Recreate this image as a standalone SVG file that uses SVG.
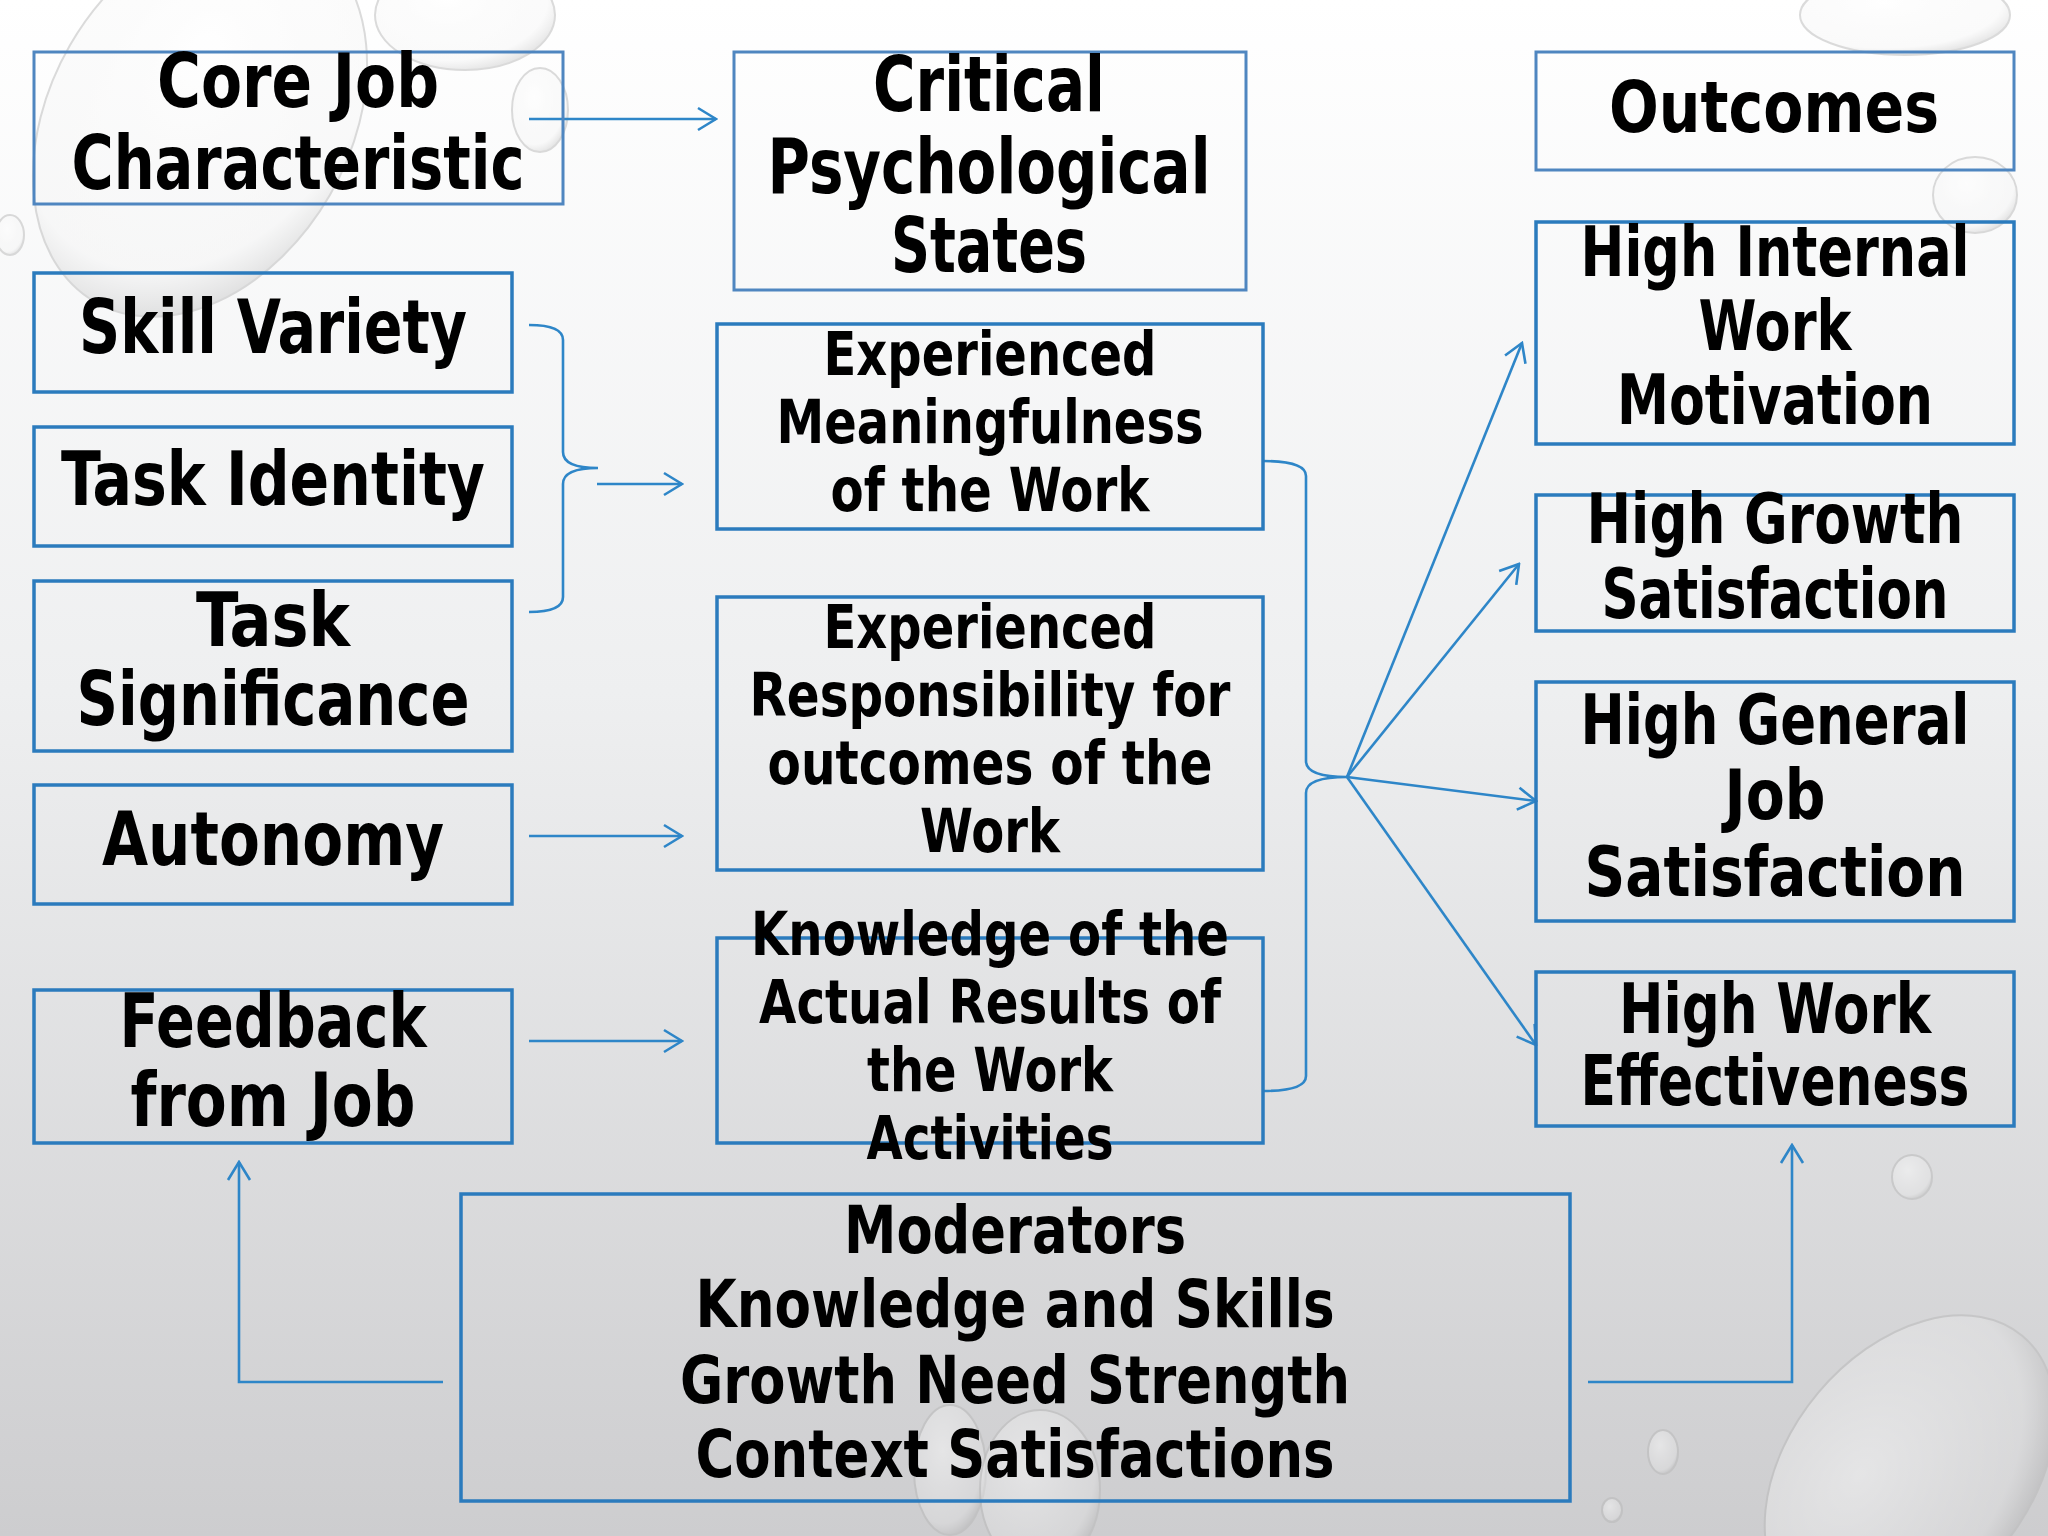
<svg xmlns="http://www.w3.org/2000/svg" width="2048" height="1536" viewBox="0 0 2048 1536">
<defs>
<linearGradient id="bg" x1="0" y1="0" x2="0" y2="1">
<stop offset="0" stop-color="#ffffff"/>
<stop offset="0.45" stop-color="#eeeff0"/>
<stop offset="1" stop-color="#cdcdcf"/>
</linearGradient>
<radialGradient id="drop" cx="0.4" cy="0.35" r="0.7">
<stop offset="0" stop-color="#ffffff" stop-opacity="0.9"/>
<stop offset="0.8" stop-color="#f2f2f2" stop-opacity="0.5"/>
<stop offset="1" stop-color="#9a9a9a" stop-opacity="0.6"/>
</radialGradient>
<marker id="arr" viewBox="0 0 22 26" refX="20" refY="13" markerWidth="22" markerHeight="26" markerUnits="userSpaceOnUse" orient="auto">
<path d="M2,2 L20,13 L2,24" fill="none" stroke="#2e86c8" stroke-width="2.6"/>
</marker>
<style>
.box{fill:none;stroke:#2b7bbd;stroke-width:3.5}
.boxl{fill:none;stroke:#4f86c0;stroke-width:3}
.con{fill:none;stroke:#2e86c8;stroke-width:2.6}
.t{font-family:"DejaVu Sans","Noto Sans",sans-serif;font-weight:bold;fill:#000;text-anchor:middle}
.tc{font-family:"DejaVu Sans Condensed","DejaVu Sans",sans-serif;font-weight:bold;fill:#000;text-anchor:middle}
.drop{fill:url(#drop);stroke:#b8b8b8;stroke-width:2;opacity:0.5}
</style>
</defs>
<rect width="2048" height="1536" fill="url(#bg)"/>
<g id="drops">
<ellipse class="drop" cx="200" cy="120" rx="150" ry="210" transform="rotate(30 200 120)"/>
<ellipse class="drop" cx="465" cy="15" rx="90" ry="55"/>
<ellipse class="drop" cx="540" cy="110" rx="28" ry="42"/>
<ellipse class="drop" cx="1905" cy="15" rx="105" ry="40"/>
<ellipse class="drop" cx="1975" cy="195" rx="42" ry="38"/>
<ellipse class="drop" cx="1912" cy="1177" rx="20" ry="22"/>
<ellipse class="drop" cx="1910" cy="1470" rx="175" ry="120" transform="rotate(-50 1910 1470)"/>
<ellipse class="drop" cx="1663" cy="1452" rx="15" ry="22"/>
<ellipse class="drop" cx="1612" cy="1510" rx="10" ry="12"/>
<ellipse class="drop" cx="950" cy="1470" rx="36" ry="65"/>
<ellipse class="drop" cx="1040" cy="1490" rx="60" ry="80"/>
<ellipse class="drop" cx="10" cy="235" rx="14" ry="20"/>
</g>
<g id="connectors">
<path class="con" d="M529,119 H716" marker-end="url(#arr)"/>
<path class="con" d="M529,325 Q563,325 563,340 V452 Q563,468 598,468 Q563,468 563,484 V597 Q563,612 529,612"/>
<path class="con" d="M597,484 H682" marker-end="url(#arr)"/>
<path class="con" d="M529,836 H682" marker-end="url(#arr)"/>
<path class="con" d="M529,1041 H682" marker-end="url(#arr)"/>
<path class="con" d="M1263,461 Q1306,461 1306,476 V761 Q1306,777 1347,777 Q1306,777 1306,793 V1076 Q1306,1091 1263,1091"/>
<path class="con" d="M1347,777 L1522,343" marker-end="url(#arr)"/>
<path class="con" d="M1347,777 L1519,564" marker-end="url(#arr)"/>
<path class="con" d="M1347,777 L1536,801" marker-end="url(#arr)"/>
<path class="con" d="M1347,777 L1536,1045" marker-end="url(#arr)"/>
<path class="con" d="M443,1382 H239 V1162" marker-end="url(#arr)"/>
<path class="con" d="M1588,1382 H1792 V1145" marker-end="url(#arr)"/>
</g>
<g id="core-job">
<rect class="boxl" x="34" y="52" width="529" height="152"/>
<text class="tc" font-size="75" x="298" y="107" textLength="282" lengthAdjust="spacingAndGlyphs">Core Job</text>
<text class="tc" font-size="75" x="298" y="189" textLength="453" lengthAdjust="spacingAndGlyphs">Characteristic</text>
</g>
<g id="critical">
<rect class="boxl" x="734" y="52" width="512" height="238"/>
<text class="t" font-size="76" x="989" y="111" textLength="232" lengthAdjust="spacingAndGlyphs">Critical</text>
<text class="t" font-size="76" x="989" y="193" textLength="443" lengthAdjust="spacingAndGlyphs">Psychological</text>
<text class="t" font-size="76" x="989" y="272" textLength="196" lengthAdjust="spacingAndGlyphs">States</text>
</g>
<g id="outcomes">
<rect class="boxl" x="1536" y="52" width="478" height="118"/>
<text class="t" font-size="72" x="1774" y="132" textLength="330" lengthAdjust="spacingAndGlyphs">Outcomes</text>
</g>
<g id="skill-variety">
<rect class="box" x="34" y="273" width="478" height="119"/>
<text class="tc" font-size="75" x="273" y="353" textLength="388" lengthAdjust="spacingAndGlyphs">Skill Variety</text>
</g>
<g id="task-identity">
<rect class="box" x="34" y="427" width="478" height="119"/>
<text class="tc" font-size="75" x="273" y="505" textLength="424" lengthAdjust="spacingAndGlyphs">Task Identity</text>
</g>
<g id="task-significance">
<rect class="box" x="34" y="581" width="478" height="170"/>
<text class="tc" font-size="75" x="273" y="646" textLength="154" lengthAdjust="spacingAndGlyphs">Task</text>
<text class="tc" font-size="75" x="273" y="725" textLength="393" lengthAdjust="spacingAndGlyphs">Significance</text>
</g>
<g id="autonomy">
<rect class="box" x="34" y="785" width="478" height="119"/>
<text class="tc" font-size="75" x="273" y="865" textLength="342" lengthAdjust="spacingAndGlyphs">Autonomy</text>
</g>
<g id="feedback">
<rect class="box" x="34" y="990" width="478" height="153"/>
<text class="tc" font-size="75" x="273" y="1047" textLength="307" lengthAdjust="spacingAndGlyphs">Feedback</text>
<text class="tc" font-size="75" x="273" y="1126" textLength="285" lengthAdjust="spacingAndGlyphs">from Job</text>
</g>
<g id="meaningfulness">
<rect class="box" x="717" y="324" width="546" height="205"/>
<text class="t" font-size="61" x="990" y="375" textLength="333" lengthAdjust="spacingAndGlyphs">Experienced</text>
<text class="t" font-size="61" x="990" y="443" textLength="427" lengthAdjust="spacingAndGlyphs">Meaningfulness</text>
<text class="t" font-size="61" x="990" y="511" textLength="319" lengthAdjust="spacingAndGlyphs">of the Work</text>
</g>
<g id="responsibility">
<rect class="box" x="717" y="597" width="546" height="273"/>
<text class="t" font-size="61" x="990" y="648" textLength="333" lengthAdjust="spacingAndGlyphs">Experienced</text>
<text class="t" font-size="61" x="990" y="716" textLength="481" lengthAdjust="spacingAndGlyphs">Responsibility for</text>
<text class="t" font-size="61" x="990" y="784" textLength="445" lengthAdjust="spacingAndGlyphs">outcomes of the</text>
<text class="t" font-size="61" x="990" y="852" textLength="140" lengthAdjust="spacingAndGlyphs">Work</text>
</g>
<g id="knowledge">
<rect class="box" x="717" y="938" width="546" height="205"/>
<text class="t" font-size="61" x="990" y="955" textLength="478" lengthAdjust="spacingAndGlyphs">Knowledge of the</text>
<text class="t" font-size="61" x="990" y="1023" textLength="462" lengthAdjust="spacingAndGlyphs">Actual Results of</text>
<text class="t" font-size="61" x="990" y="1091" textLength="246" lengthAdjust="spacingAndGlyphs">the Work</text>
<text class="t" font-size="61" x="990" y="1159" textLength="247" lengthAdjust="spacingAndGlyphs">Activities</text>
</g>
<g id="internal-motivation">
<rect class="box" x="1536" y="222" width="478" height="222"/>
<text class="t" font-size="69" x="1775" y="276" textLength="389" lengthAdjust="spacingAndGlyphs">High Internal</text>
<text class="t" font-size="69" x="1775" y="350" textLength="153" lengthAdjust="spacingAndGlyphs">Work</text>
<text class="t" font-size="69" x="1775" y="424" textLength="316" lengthAdjust="spacingAndGlyphs">Motivation</text>
</g>
<g id="growth-satisfaction">
<rect class="box" x="1536" y="495" width="478" height="136"/>
<text class="t" font-size="69" x="1775" y="543" textLength="377" lengthAdjust="spacingAndGlyphs">High Growth</text>
<text class="t" font-size="69" x="1775" y="618" textLength="347" lengthAdjust="spacingAndGlyphs">Satisfaction</text>
</g>
<g id="job-satisfaction">
<rect class="box" x="1536" y="682" width="478" height="239"/>
<text class="t" font-size="69" x="1775" y="744" textLength="389" lengthAdjust="spacingAndGlyphs">High General</text>
<text class="t" font-size="69" x="1775" y="819" textLength="101" lengthAdjust="spacingAndGlyphs">Job</text>
<text class="t" font-size="69" x="1775" y="896" textLength="381" lengthAdjust="spacingAndGlyphs">Satisfaction</text>
</g>
<g id="work-effectiveness">
<rect class="box" x="1536" y="972" width="478" height="154"/>
<text class="t" font-size="69" x="1775" y="1033" textLength="312" lengthAdjust="spacingAndGlyphs">High Work</text>
<text class="t" font-size="69" x="1775" y="1105" textLength="389" lengthAdjust="spacingAndGlyphs">Effectiveness</text>
</g>
<g id="moderators">
<rect class="box" x="461" y="1194" width="1109" height="307"/>
<text class="tc" font-size="66" x="1015" y="1253" textLength="342" lengthAdjust="spacingAndGlyphs">Moderators</text>
<text class="tc" font-size="66" x="1015" y="1327" textLength="639" lengthAdjust="spacingAndGlyphs">Knowledge and Skills</text>
<text class="tc" font-size="66" x="1015" y="1403" textLength="670" lengthAdjust="spacingAndGlyphs">Growth Need Strength</text>
<text class="tc" font-size="66" x="1015" y="1477" textLength="639" lengthAdjust="spacingAndGlyphs">Context Satisfactions</text>
</g>
</svg>
